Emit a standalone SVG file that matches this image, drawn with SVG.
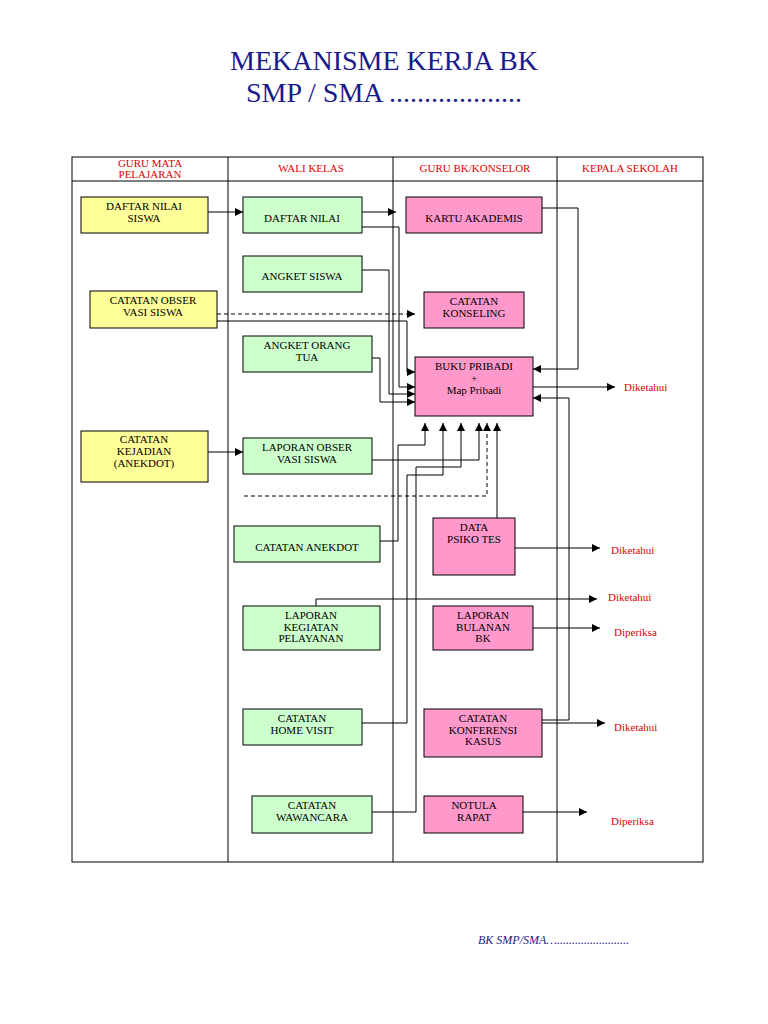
<svg xmlns="http://www.w3.org/2000/svg" width="768" height="1024" viewBox="0 0 768 1024">
<style>
text{font-family:"Liberation Serif","DejaVu Serif",serif;font-size:11px;text-anchor:middle;fill:#000}
.h{fill:#e00000}
.r{fill:#e00000;text-anchor:start}
.y{fill:#ffff99;stroke:#000;stroke-width:1}
.g{fill:#ccffcc;stroke:#000;stroke-width:1}
.p{fill:#ff99cc;stroke:#000;stroke-width:1}
.grid{fill:none;stroke:#000;stroke-width:1}
#conn path{fill:none;stroke:#000;stroke-width:1}
.d{stroke-dasharray:4,3}
</style>
<defs><marker id="a" viewBox="0 0 10 10" refX="10" refY="5" markerWidth="8" markerHeight="8" markerUnits="userSpaceOnUse" orient="auto"><path d="M0,0L10,5L0,10z" fill="#000"/></marker></defs>
<rect width="768" height="1024" fill="#fff"/>
<text x="384" y="70" style="font-size:28px;fill:#1a1a8c">MEKANISME KERJA BK</text>
<text x="384" y="102" style="font-size:28px;fill:#1a1a8c">SMP / SMA ...................</text>
<g id="table">
<rect class="grid" x="72" y="157" width="631" height="705"/>
<path class="grid" d="M72,181H703M228,157V862M393,157V862M557,157V862"/>
<text class="h" x="150" y="167">GURU MATA</text><text class="h" x="150" y="178">PELAJARAN</text>
<text class="h" x="311" y="172">WALI KELAS</text>
<text class="h" x="475" y="172">GURU BK/KONSELOR</text>
<text class="h" x="630" y="172">KEPALA SEKOLAH</text>
</g>
<g id="conn">
<path d="M208,212H243" marker-end="url(#a)"/>
<path d="M362,212H396" marker-end="url(#a)"/>
<path d="M362,227H399V387H415" marker-end="url(#a)"/>
<path d="M362,270H389V394H415" marker-end="url(#a)"/>
<path class="d" d="M217,314H415" marker-end="url(#a)"/>
<path d="M217,321H407V372H415" marker-end="url(#a)"/>
<path d="M372,358H380V402H415" marker-end="url(#a)"/>
<path d="M542,208H578V369H533" marker-end="url(#a)"/>
<path d="M533,387H615" marker-end="url(#a)"/>
<path d="M542,720H569V398H533" marker-end="url(#a)"/>
<path d="M542,723H605" marker-end="url(#a)"/>
<path d="M208,452H243" marker-end="url(#a)"/>
<path d="M380,541H398V445H425V423" marker-end="url(#a)"/>
<path d="M362,723H407V475H443V423" marker-end="url(#a)"/>
<path d="M372,812H416V467H461V423" marker-end="url(#a)"/>
<path d="M372,460H479V423" marker-end="url(#a)"/>
<path class="d" d="M244,496H487V423" marker-end="url(#a)"/>
<path d="M497,518V423" marker-end="url(#a)"/>
<path d="M316,606V599H597" marker-end="url(#a)"/>
<path d="M515,548H600" marker-end="url(#a)"/>
<path d="M533,628H600" marker-end="url(#a)"/>
<path d="M523,812H587" marker-end="url(#a)"/>
</g>
<g id="daftar-nilai-siswa"><rect class="y" x="81" y="197" width="127" height="36"/><text x="144" y="210">DAFTAR NILAI</text><text x="144" y="222">SISWA</text></g>
<g id="catatan-obser"><rect class="y" x="90" y="291" width="127" height="37"/><text x="153" y="304">CATATAN OBSER</text><text x="153" y="316">VASI SISWA</text></g>
<g id="catatan-kejadian"><rect class="y" x="81" y="431" width="127" height="51"/><text x="144" y="443">CATATAN</text><text x="144" y="455">KEJADIAN</text><text x="144" y="467">(ANEKDOT)</text></g>
<g id="daftar-nilai"><rect class="g" x="243" y="197" width="119" height="36"/><text x="302" y="222">DAFTAR NILAI</text></g>
<g id="angket-siswa"><rect class="g" x="243" y="256" width="119" height="36"/><text x="302" y="280">ANGKET SISWA</text></g>
<g id="angket-ortu"><rect class="g" x="243" y="336" width="129" height="36"/><text x="307" y="349">ANGKET ORANG</text><text x="307" y="361">TUA</text></g>
<g id="laporan-obser"><rect class="g" x="243" y="438" width="129" height="36"/><text x="307" y="451">LAPORAN OBSER</text><text x="307" y="463">VASI SISWA</text></g>
<g id="catatan-anekdot"><rect class="g" x="234" y="526" width="146" height="36"/><text x="307" y="551">CATATAN ANEKDOT</text></g>
<g id="laporan-kegiatan"><rect class="g" x="243" y="606" width="137" height="44"/><text x="311" y="619">LAPORAN</text><text x="311" y="631">KEGIATAN</text><text x="311" y="642">PELAYANAN</text></g>
<g id="home-visit"><rect class="g" x="243" y="709" width="119" height="36"/><text x="302" y="722">CATATAN</text><text x="302" y="734">HOME VISIT</text></g>
<g id="wawancara"><rect class="g" x="252" y="796" width="120" height="37"/><text x="312" y="809">CATATAN</text><text x="312" y="821">WAWANCARA</text></g>
<g id="kartu-akademis"><rect class="p" x="406" y="197" width="136" height="36"/><text x="474" y="222">KARTU AKADEMIS</text></g>
<g id="catatan-konseling"><rect class="p" x="424" y="292" width="100" height="36"/><text x="474" y="305">CATATAN</text><text x="474" y="317">KONSELING</text></g>
<g id="buku-pribadi"><rect class="p" x="415" y="357" width="118" height="59"/><text x="474" y="370">BUKU PRIBADI</text><text x="474" y="382">+</text><text x="474" y="394">Map  Pribadi</text></g>
<g id="data-psiko"><rect class="p" x="433" y="518" width="82" height="57"/><text x="474" y="531">DATA</text><text x="474" y="543">PSIKO TES</text></g>
<g id="laporan-bulanan"><rect class="p" x="433" y="606" width="100" height="44"/><text x="483" y="619">LAPORAN</text><text x="483" y="631">BULANAN</text><text x="483" y="642">BK</text></g>
<g id="konferensi"><rect class="p" x="424" y="709" width="118" height="48"/><text x="483" y="722">CATATAN</text><text x="483" y="734">KONFERENSI</text><text x="483" y="745">KASUS</text></g>
<g id="notula"><rect class="p" x="424" y="796" width="99" height="37"/><text x="474" y="809">NOTULA</text><text x="474" y="821">RAPAT</text></g>
<text class="r" x="624" y="391">Diketahui</text>
<text class="r" x="611" y="554">Diketahui</text>
<text class="r" x="608" y="601">Diketahui</text>
<text class="r" x="614" y="636">Diperiksa</text>
<text class="r" x="614" y="731">Diketahui</text>
<text class="r" x="611" y="825">Diperiksa</text>
<text x="478" y="944" style="text-anchor:start;font-style:italic;font-size:12px;fill:#1a1a8c">BK SMP/SMA…........................</text>
</svg>
